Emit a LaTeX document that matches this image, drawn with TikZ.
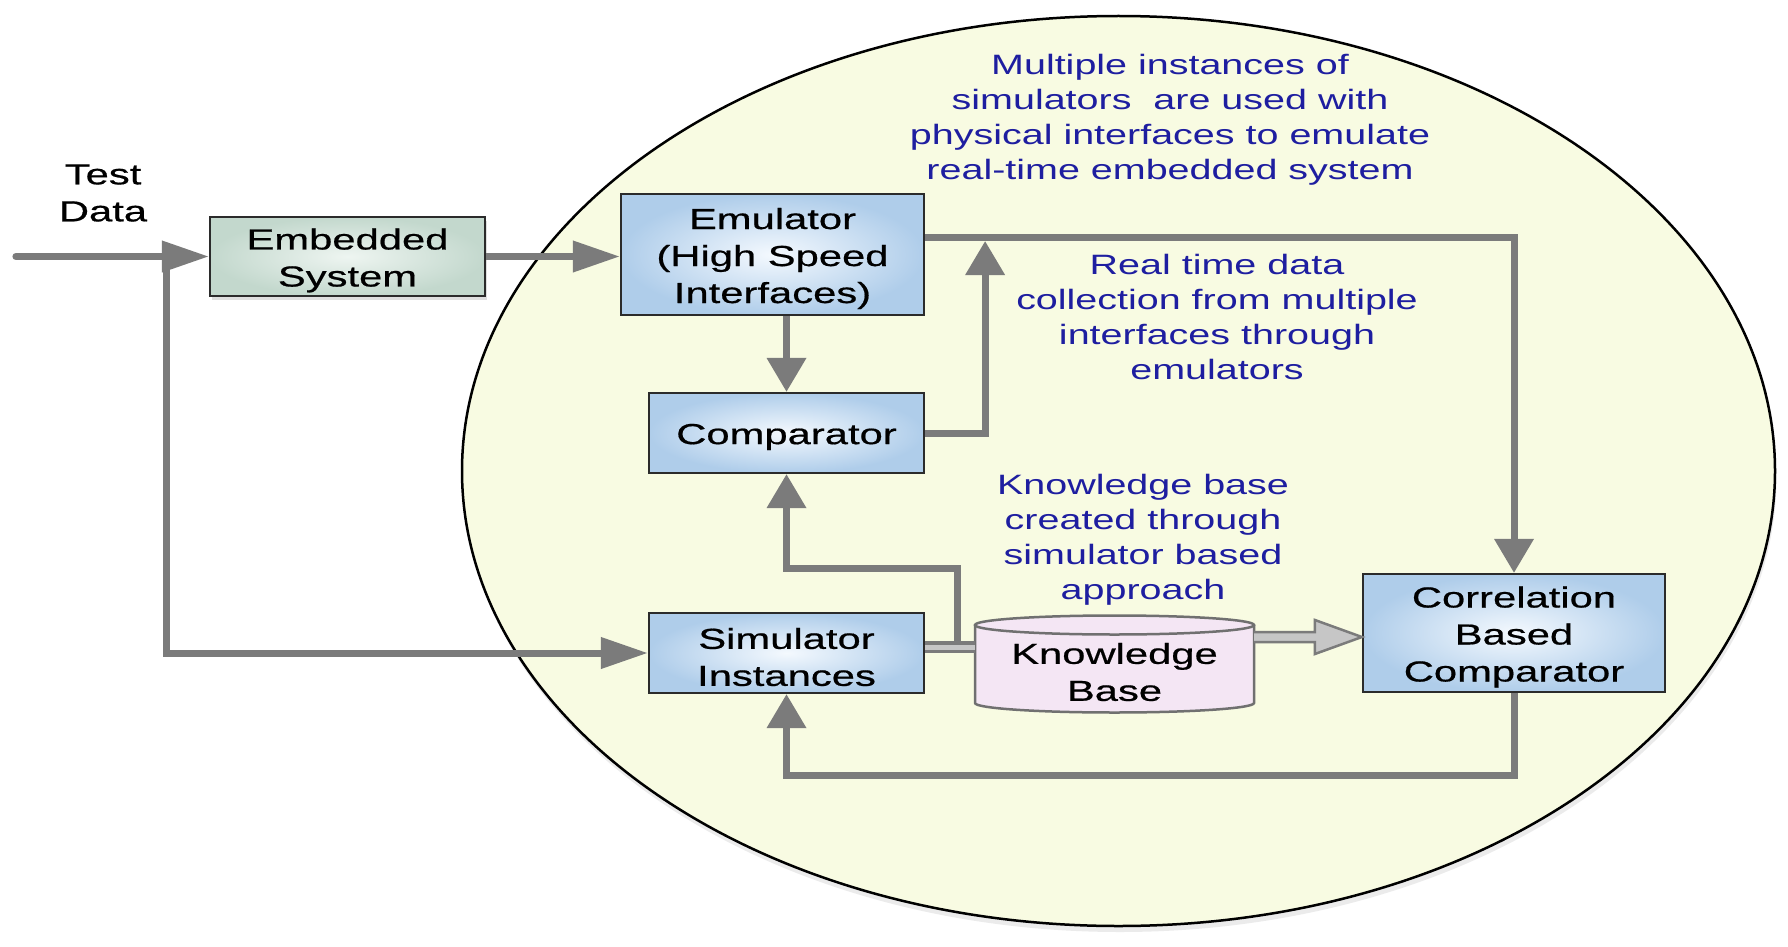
\documentclass[tikz,border=0pt]{standalone}
\usepackage{fontspec}
\setmainfont{Liberation Sans}
\newfontfamily\blkfont[FakeStretch=1.44,FakeBold=0.6]{Liberation Sans}
\newfontfamily\blufont[FakeStretch=1.41]{Liberation Sans}
\usetikzlibrary{arrows.meta,calc,shadows}
\definecolor{ellfill}{HTML}{F8FBE2}
\definecolor{boxblue}{HTML}{AFCDEA}
\definecolor{boxin}{HTML}{F4F9FE}
\definecolor{esout}{HTML}{C3D8CD}
\definecolor{esin}{HTML}{EEF5F1}
\definecolor{kbpink}{HTML}{F4E6F4}
\definecolor{kbedge}{HTML}{707070}
\definecolor{arrgray}{HTML}{7B7B7B}
\definecolor{lightarr}{HTML}{C6C6C6}
\definecolor{bluetext}{HTML}{1E1EA0}
\definecolor{boxedge}{HTML}{2B2B2B}
\begin{document}
\begin{tikzpicture}[x=1pt,y=-1pt,
  blk/.style={font=\blkfont\fontsize{29}{37}\selectfont, text=black, align=center},
  blu/.style={font=\blufont\fontsize{28}{35}\selectfont, text=bluetext, align=center, inner sep=0pt},
  boxtext/.style={label={[blk, inner sep=0pt, yshift=-4pt]center:#1}},
  bluebox/.style={draw=boxedge, line width=2.2pt, inner color=boxin, outer color=boxblue, inner sep=0pt},
  esbox/.style={draw=boxedge, line width=2.2pt, inner color=esin, outer color=esout, inner sep=0pt,
    drop shadow={opacity=0.25, shadow xshift=2pt, shadow yshift=-4pt}},
  conn/.style={draw=arrgray, line width=7pt},
  harrow/.style={conn, -{Triangle[length=47pt,width=30pt]}},
  varrow/.style={conn, -{Triangle[length=34pt,width=38pt]}},
  bar/.style={draw=arrgray, line width=3.5pt, double=lightarr, double distance=5pt},
  hollow/.style={draw=arrgray, fill=lightarr, line width=2.5pt, line join=miter},
  cyl/.style={draw=kbedge, line width=2.5pt}
]
\useasboundingbox (0,0) rectangle (1788,947);
\fill[white] (0,0) rectangle (1788,947);
\fill[black, opacity=0.08] (1120,477) ellipse [x radius=656.5, y radius=455];
\draw[fill=ellfill, line width=2.5pt] (1118.5,471) ellipse [x radius=656.5, y radius=455];

% cylinder
\fill[kbpink] (975,625) -- (975,703) arc[start angle=180, end angle=0, x radius=139.5, y radius=9.5] -- (1254,625) -- cycle;
\draw[cyl] (975,625) -- (975,703) arc[start angle=180, end angle=0, x radius=139.5, y radius=9.5] -- (1254,625);
\draw[cyl, fill=kbpink] (1114.5,625) ellipse [x radius=139.5, y radius=9.5];

% nodes
\node[blk, inner sep=0pt] (td) at (103,193) {Test\\Data};
\node[esbox, minimum width=275pt, minimum height=79pt, boxtext={Embedded\\System}] (es) at (347.5,256.5) {};
\node[bluebox, minimum width=303pt, minimum height=121pt, boxtext={Emulator\\(High Speed\\Interfaces)}] (emu) at (772.5,254.5) {};
\node[bluebox, minimum width=275pt, minimum height=80pt, boxtext={Comparator}] (comp) at (786.5,433) {};
\node[bluebox, minimum width=275pt, minimum height=80pt, boxtext={Simulator\\Instances}] (sim) at (786.5,653) {};
\node[bluebox, minimum width=302pt, minimum height=118pt, boxtext={Correlation\\Based\\Comparator}] (corr) at (1514,633) {};
\node[blk, inner sep=0pt, minimum width=279pt, minimum height=98pt] (kb) at (1114.5,672) {Knowledge\\Base};

\node[blu] (t1) at (1170,119.5) {Multiple instances of\\simulators\ \ are used with\\physical interfaces to emulate\\real-time embedded system};
\node[blu] (t2) at (1217,317) {Real time data\\collection from multiple\\interfaces through\\emulators};
\node[blu] (t3) at (1143,540) {Knowledge base\\created through\\simulator based\\approach};

% connectors
\path (es.west) ++(-193,0) coordinate (in);
\draw[harrow, line cap=round] (in) -- (es.west);
\path (es.west) ++(-42,-3.5) coordinate (split);
\draw[harrow] (split) |- (sim.west);
\draw[harrow] (es.east) -- (es.east -| emu.west);
\draw[varrow] (comp.north |- emu.south) -- (comp.north);
\path (emu.east) ++(0,-17) coordinate (eo);
\draw[varrow] (eo) -| (corr.north);
\path (eo) ++(60,3.5) coordinate (cu);
\draw[varrow] (comp.east) -| (cu);
\draw[varrow] (corr.south) -- ++(0,82) -| (sim.south);

\path (sim.east) ++(0,-6) coordinate (sb);
\path (sb) ++(32,-5) coordinate (br);
\draw[varrow] (br) |- ($(comp.south)+(0,94)$) -- (comp.south);
\draw[bar] (sb) -- (sb -| kb.west);

\path (kb.east) ++(0,-35) coordinate (ka);
\path (ka -| corr.west) coordinate (kc);
\draw[hollow] ($(ka)+(0,-5)$) -- ($(kc)+(-47,-5)$) -- ($(kc)+(-47,-17)$) -- (kc) -- ($(kc)+(-47,17)$) -- ($(kc)+(-47,5)$) -- ($(ka)+(0,5)$);
\end{tikzpicture}
\end{document}
